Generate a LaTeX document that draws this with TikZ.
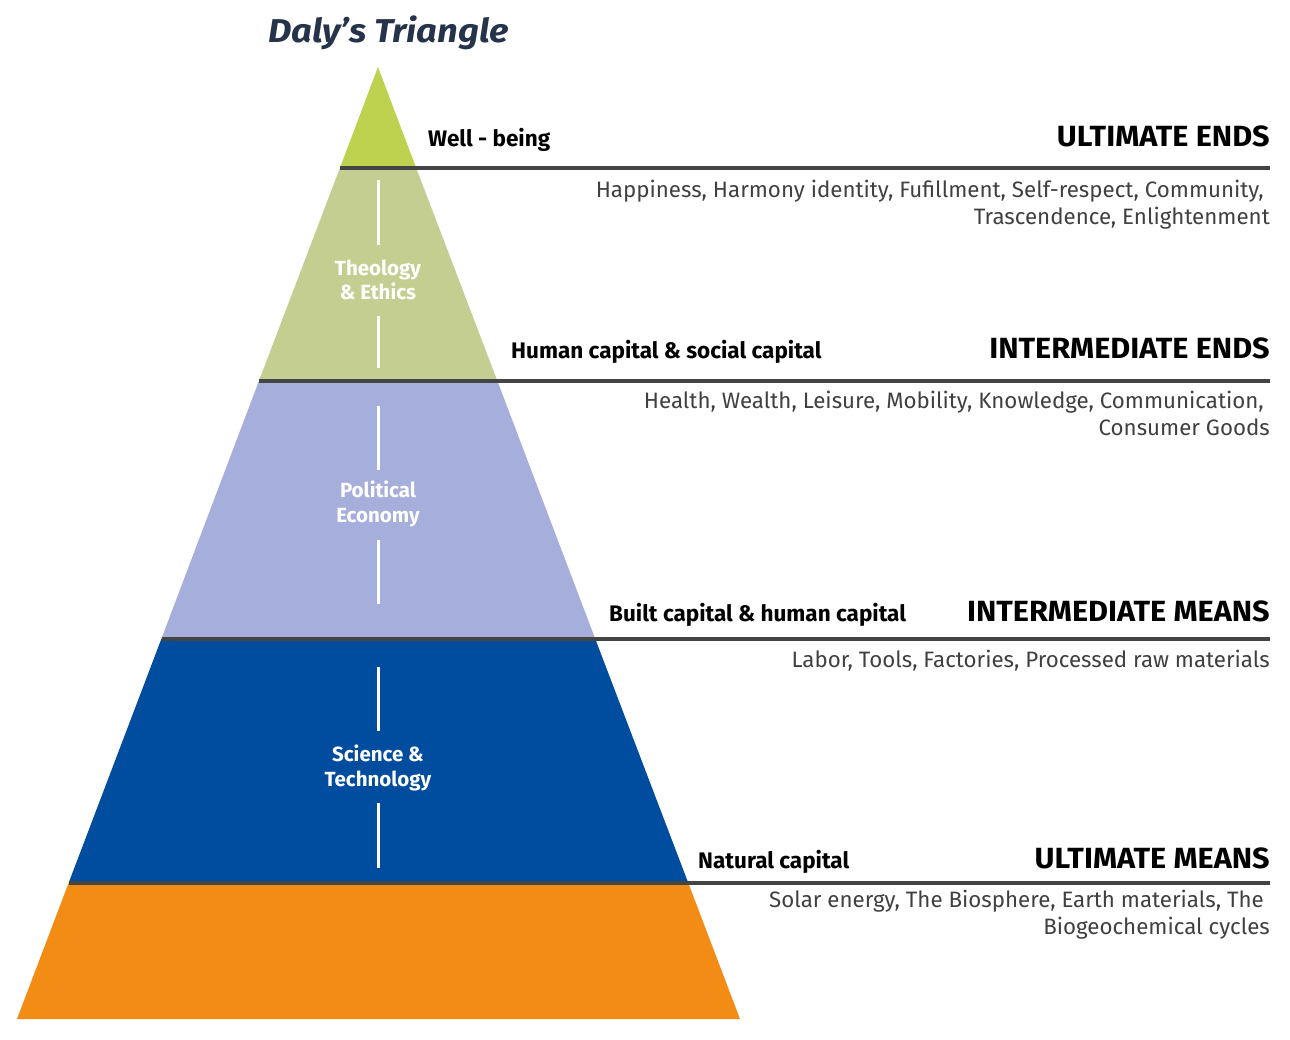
\documentclass[tikz,border=0pt]{standalone}
\usepackage{fontspec}
\setmainfont{Fira Sans}
\newfontfamily\titlefont[FakeStretch=1.1]{Fira Sans}
\newfontfamily\headfont[FakeStretch=1.05]{Fira Sans}
\definecolor{cgreen}{HTML}{BED250}
\definecolor{csage}{HTML}{C5CE91}
\definecolor{clav}{HTML}{A6AEDB}
\definecolor{cblue}{HTML}{004C9E}
\definecolor{corange}{HTML}{F28C14}
\definecolor{cline}{HTML}{444444}
\definecolor{cbody}{HTML}{404040}
\definecolor{ctitle}{HTML}{25344A}
\tikzset{
  sepline/.style={draw=cline, line width=4pt},
  whitedash/.style={draw=white, line width=3pt},
  heading/.style={anchor=base east, inner sep=0pt, font=\headfont\fontsize{29.2}{31}\selectfont\bfseries, text=black},
  caplabel/.style={anchor=base west, inner sep=0pt, font=\fontsize{22.5}{24}\selectfont\bfseries, text=black},
  bodytext/.style={anchor=base east, inner sep=0pt, font=\fontsize{22.3}{26}\selectfont, text=cbody},
  bandlabel/.style={align=center, inner sep=0pt, font=\fontsize{20.5}{23}\selectfont\bfseries, text=white},
}
\begin{document}
\begin{tikzpicture}[x=1pt,y=-1pt]
\useasboundingbox[fill=white] (0,0) rectangle (1290,1040);
% pyramid bands
\coordinate (apex) at (378,67);
\coordinate (l1) at (339.7,168.5); \coordinate (r1) at (416.4,168.5);
\coordinate (l2) at (258.9,381);   \coordinate (r2) at (497.4,381);
\coordinate (l3) at (161.5,638.5); \coordinate (r3) at (595.1,638.5);
\coordinate (l4) at (68.6,883);    \coordinate (r4) at (688.3,883);
\coordinate (l5) at (17,1019);     \coordinate (r5) at (740,1019);
\fill[cgreen] (apex) -- (r1) -- (l1) -- cycle;
\fill[csage] (l1) -- (r1) -- (r2) -- (l2) -- cycle;
\fill[clav] (l2) -- (r2) -- (r3) -- (l3) -- cycle;
\fill[cblue] (l3) -- (r3) -- (r4) -- (l4) -- cycle;
\fill[corange] (l4) -- (r4) -- (r5) -- (l5) -- cycle;
% white dashes
\coordinate (d1a) at (378,180); \coordinate (d1b) at (378,245);
\coordinate (d2a) at (378,316); \coordinate (d2b) at (378,368);
\coordinate (d3a) at (378,406); \coordinate (d3b) at (378,470);
\coordinate (d4a) at (378,540); \coordinate (d4b) at (378,604);
\coordinate (d5a) at (378,667); \coordinate (d5b) at (378,731);
\coordinate (d6a) at (378,803); \coordinate (d6b) at (378,868);
\draw[whitedash] (d1a) -- (d1b);
\draw[whitedash] (d2a) -- (d2b);
\draw[whitedash] (d3a) -- (d3b);
\draw[whitedash] (d4a) -- (d4b);
\draw[whitedash] (d5a) -- (d5b);
\draw[whitedash] (d6a) -- (d6b);
% separator lines
\coordinate (e1) at (1270,168.5);
\coordinate (e2) at (1270,381);
\coordinate (e3) at (1270,638.5);
\coordinate (e4) at (1270,883);
\draw[sepline] (l1) -- (e1);
\draw[sepline] (l2) -- (e2);
\draw[sepline] (l3) -- (e3);
\draw[sepline] (l4) -- (e4);
% band labels
\node[bandlabel] (theo) at (378,280) {Theology\\[1.5pt]\& Ethics};
\node[bandlabel] (pol) at (378,504) {Political\\[1.5pt]Economy};
\node[bandlabel] (sci) at (378,768) {Science \&\\[1.5pt]Technology};
% title
\node[anchor=base west, inner sep=0pt, font=\titlefont\fontsize{33}{36}\selectfont\bfseries\itshape, text=ctitle] (title) at (268,43) {Daly’s Triangle};
% capital labels
\node[caplabel] (wb) at (428,147) {Well - being};
\node[caplabel] (hc) at (511,359) {Human capital \& social capital};
\node[caplabel] (bc) at (609,621) {Built capital \& human capital};
\node[caplabel] (nc) at (698,868) {Natural capital};
% headings
\node[heading] (h1) at (1270,147) {ULTIMATE ENDS};
\node[heading] (h2) at (1270,359) {INTERMEDIATE ENDS};
\node[heading] (h3) at (1270,621) {INTERMEDIATE MEANS};
\node[heading] (h4) at (1270,868) {ULTIMATE MEANS};
% body texts
\node[bodytext] (b1a) at (1264,198) {Happiness, Harmony identity, Fufillment, Self-respect, Community,};
\node[bodytext] (b1b) at (1270,225) {Trascendence, Enlightenment};
\node[bodytext] (b2a) at (1264,408) {Health, Wealth, Leisure, Mobility, Knowledge, Communication,};
\node[bodytext] (b2b) at (1270,435) {Consumer Goods};
\node[bodytext] (b3a) at (1270,667) {Labor, Tools, Factories, Processed raw materials};
\node[bodytext] (b4a) at (1264,907) {Solar energy, The Biosphere, Earth materials, The};
\node[bodytext] (b4b) at (1270,934) {Biogeochemical cycles};
\end{tikzpicture}
\end{document}
